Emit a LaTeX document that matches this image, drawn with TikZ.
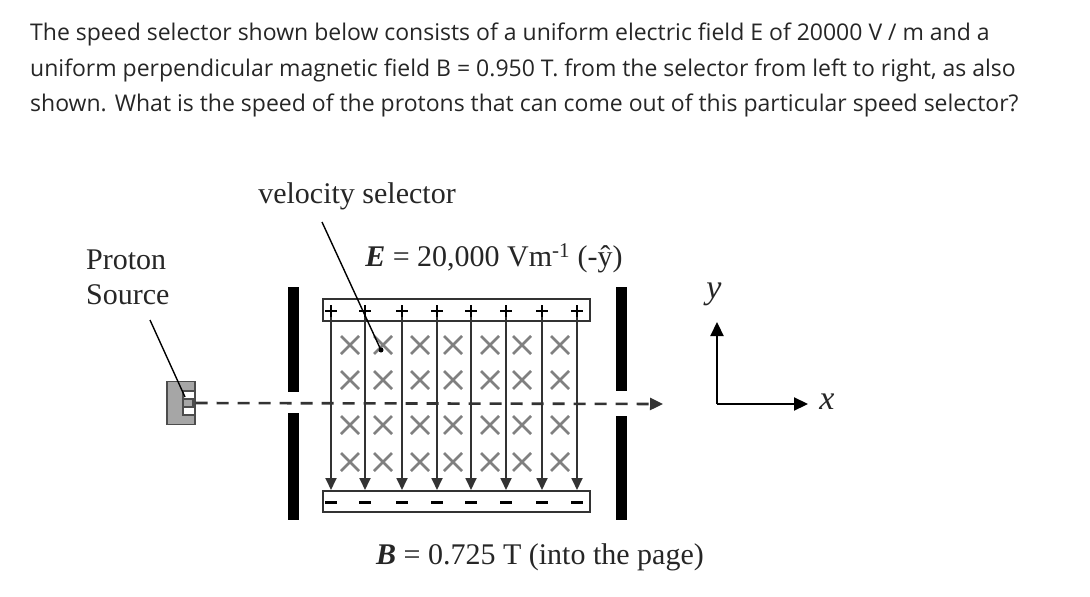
\documentclass[tikz,border=0pt]{standalone}
\usepackage{fontspec}
\setmainfont{Liberation Serif}
\newfontfamily\qfont{Open Sans}
\usetikzlibrary{arrows.meta}
\begin{document}
\begin{tikzpicture}[x=1pt,y=-1pt,
  q/.style={anchor=west,inner sep=0pt,font=\qfont\fontsize{23}{26}\selectfont,text=black!85},
  lbl/.style={inner sep=0pt,font=\fontsize{30}{34}\selectfont,text=black!85},
  bar/.style={fill=black,draw=none},
  cross/.style={gray,line width=2.6pt},
  fld/.style={-{Triangle[length=12pt,width=11pt]},line width=1.8pt,black!80},
  plate/.style={draw=black!80,line width=1.8pt,fill=white}]
\useasboundingbox (0,0) rectangle (1090,597);
\node[q] (l1) at (30,34) {The speed selector shown below consists of a uniform electric field E of 20000 V / m and a};
\node[q] (l2) at (30,70) {uniform perpendicular magnetic field B = 0.950 T. from the selector from left to right, as also};
\node[q] (l3) at (30,105) {shown. What is the speed of the protons that can come out of this particular speed selector?};
% labels
\node[lbl] (vs) at (357,196) {velocity selector};
\node[lbl,anchor=west] (ps1) at (86,260) {Proton};
\node[lbl,anchor=west] (ps2) at (86,295) {Source};
\node[lbl] (E) at (494,258) {\textbf{\textit{E}} = 20,000 Vm\textsuperscript{-1} (-\^{y})};
\node[lbl] (B) at (540,557) {\textbf{\textit{B}} = 0.725 T (into the page)};
% slits
\fill[bar] (288,287) rectangle (299,392);
\fill[bar] (288,413) rectangle (299,520);
\fill[bar] (616,287) rectangle (627,391);
\fill[bar] (616,416) rectangle (627,520);
% crosses
\foreach \cx in {350,383,420,453,490,522,560}
  \foreach \cy in {345,380,425,462}
    \draw[cross] (\cx-9,\cy-9) -- (\cx+9,\cy+9) (\cx-9,\cy+9) -- (\cx+9,\cy-9);
% plates
\draw[plate] (323,299) rectangle (590,321);
\draw[plate] (323,491) rectangle (590,512);
\foreach \px in {331,365,402,437,471,506,542,577}{
  \draw[line width=2.2pt] (\px-6,311) -- (\px+6,311) (\px,305) -- (\px,317);
  \draw[line width=3pt] (\px-6,502) -- (\px+6,502);
  \draw[fld] (\px,317) -- (\px,490);
}
% source
\node[draw=black!70,line width=1.4pt,fill=gray!70,minimum width=28pt,minimum height=43pt,inner sep=0pt] (src) at (181,403) {};
\fill[white,draw=black!70,line width=1.4pt] (183,391) rectangle (195,415);
\fill[gray!70,draw=black!70,line width=1.4pt] (183,399) rectangle (193,407);
\coordinate (exit) at (663,404);
\draw[dash pattern=on 12pt off 9pt,line width=2.6pt,black!80,-{Triangle[length=13pt,width=12pt]}] (src.east) -- (exit);
% leaders
\draw[line width=1.4pt] (150,320) -- (185,397);
\draw[line width=1.4pt] (322,222) -- (380,348);
\fill (381,350) circle (2.5pt);
% axes
\coordinate (o) at (717,404);
\coordinate (yt) at (717,322);
\coordinate (xt) at (808,404);
\draw[line width=2.2pt,-{Triangle[length=14pt,width=13pt]}] (o) -- (yt);
\draw[line width=2.2pt,-{Triangle[length=14pt,width=13pt]}] (o) -- (xt);
\node[lbl,font=\itshape\fontsize{34}{36}\selectfont] (yl) at (714,294) {y};
\node[lbl,font=\itshape\fontsize{34}{36}\selectfont] (xl) at (827,402) {x};
\end{tikzpicture}
\end{document}
